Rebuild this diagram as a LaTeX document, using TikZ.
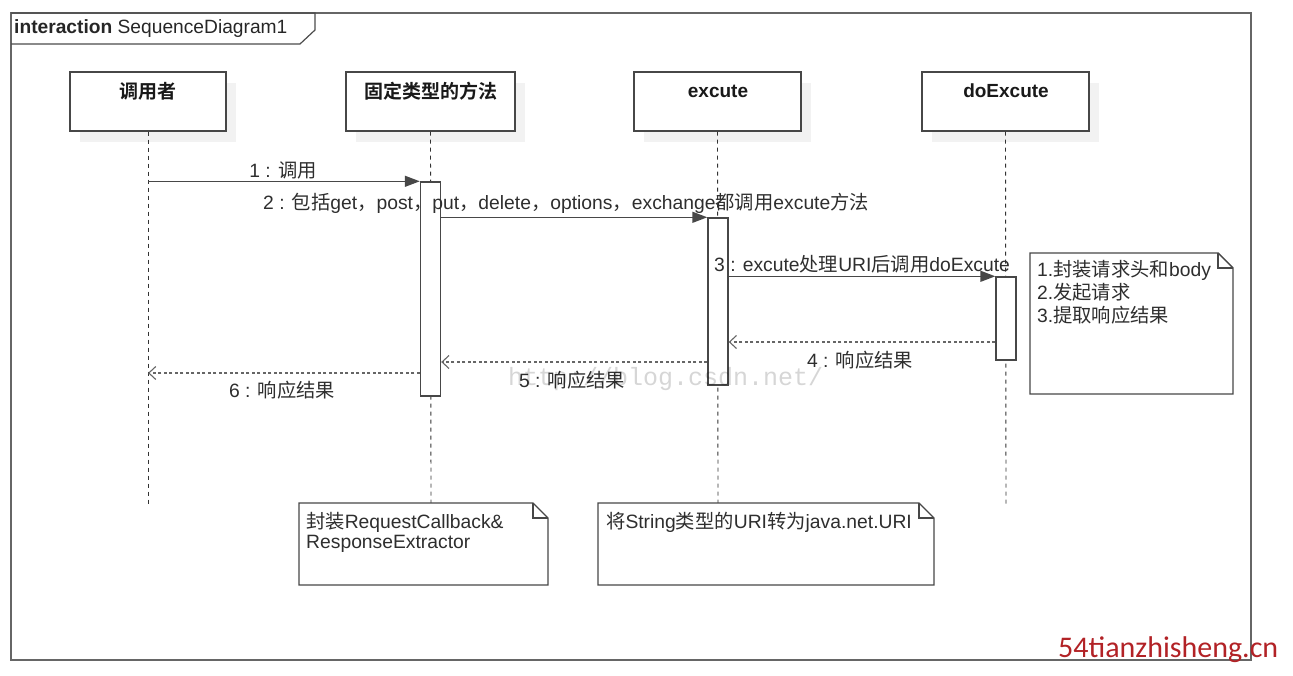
\documentclass[tikz,border=0pt]{standalone}
\usepackage{fontspec}
\setmainfont{Liberation Sans}
\newfontfamily\zhfont{Noto Sans CJK SC}[BoldFont={* Bold}]
\newfontfamily\wmfont{Liberation Mono}
\newfontfamily\redfont{Carlito}
\newcommand\zh[1]{{\zhfont #1}}
\usetikzlibrary{arrows.meta,shadows}
\tikzset{
  ln/.style={draw=black!72, line width=1.4pt},
  lifebox/.style={ln, fill=white, minimum width=156pt, minimum height=59pt, inner sep=0pt,
    drop shadow={shadow xshift=10pt, shadow yshift=-11pt, fill=black!5, opacity=1}},
  head/.style={font=\fontsize{19}{22}\selectfont\bfseries, text=black!90, inner sep=0pt},
  life/.style={draw=black!80, line width=0.9pt, dash pattern=on 4pt off 4pt},
  act/.style={ln, fill=white, minimum width=20pt, inner sep=0pt},
  msg/.style={draw=black!72, line width=1.4pt, -{Triangle[length=15pt,width=11pt]}},
  ret/.style={draw=black!60, line width=1.3pt, dash pattern=on 3pt off 2.5pt,
    -{Straight Barb[length=7pt,width=13pt,line width=1.1pt]}},
  lbl/.style={font=\fontsize{19.3}{22}\selectfont, text=black!82, inner sep=0pt},
  notetxt/.style={font=\fontsize{19.3}{23}\selectfont, text=black!82, inner sep=0pt, align=left, anchor=north west},
  notebox/.style={draw=black!72, line width=1.4pt, fill=white},
}
\begin{document}
\begin{tikzpicture}[x=1pt,y=-1pt]
\useasboundingbox (0,0) rectangle (1293,676);
% frame
\draw[draw=black!60, line width=2pt] (11,13) rectangle (1251,660);
\draw[draw=black!70, line width=1.2pt] (11,13) -- (315,13) -- (315,30) -- (300,44) -- (11,44);
\node[font=\fontsize{19.2}{22}\selectfont, text=black!85, anchor=west, inner sep=0pt] (title) at (14,29)
  {\textbf{interaction} SequenceDiagram1};

% lifeline heads
\node[lifebox] (b1) at (148,101.5) {};
\node[lifebox, minimum width=169pt] (b2) at (430.5,101.5) {};
\node[lifebox, minimum width=167pt] (b3) at (717.5,101.5) {};
\node[lifebox, minimum width=167pt] (b4) at (1005.5,101.5) {};
\node[head] (t1) at (148,91) {\zh{\bfseries 调用者}};
\node[head] (t2) at (431,91) {\zh{\bfseries 固定类型的方法}};
\node[head] (t3) at (718,91) {excute};
\node[head] (t4) at (1006,91) {doExcute};

% lifeline end points
\coordinate (e1) at (148,505);
\coordinate (e2) at (431,503);
\coordinate (e3) at (718,503);
\coordinate (e4) at (1006,505);
\draw[life] (b1.south) -- (e1);
\draw[life] (b2.south) -- (e2);
\draw[life] (b3.south) -- (e3);
\draw[life] (b4.south) -- (e4);

% activations
\node[act, minimum height=214pt] (a1) at (430.5,289) {};
\node[act, minimum height=167pt] (a2) at (718,301.5) {};
\node[act, minimum height=83pt] (a3) at (1006,318.5) {};

% messages
\draw[msg] (b1.south |- a1.north west) -- (a1.north west);
\node[lbl] (l1) at (283,170) {1 : \zh{调用}};
\draw[msg] (a1.east |- a2.north west) -- (a2.north west);
\node[lbl, anchor=west] (l2) at (263,203) {2 : \zh{包括}get\zh{，}post\zh{，}put\zh{，}delete\zh{，}options\zh{，}exchange\zh{都调用}excute\zh{方法}};
\draw[msg] (a2.east |- a3.north west) -- (a3.north west);
\node[lbl, anchor=west] (l3) at (714,264) {3 : excute\zh{处理}URI\zh{后调用}doExcute};

\coordinate (m4) at (996,342);
\coordinate (m5) at (708,362);
\coordinate (m6) at (420,373);
\draw[ret] (a3.west |- m4) -- (a2.east |- m4);
\node[lbl] (l4) at (860,360) {4 : \zh{响应结果}};
\draw[ret] (a2.west |- m5) -- (a1.east |- m5);
\node[lbl] (l5) at (572,380) {5 : \zh{响应结果}};
\draw[ret] (a1.west |- m6) -- (b1.south |- m6);
\node[lbl] (l6) at (282,390) {6 : \zh{响应结果}};

% notes
\draw[notebox] (1030,253) -- (1218,253) -- (1233,268) -- (1233,394) -- (1030,394) -- cycle;
\draw[draw=black!72, line width=1.4pt] (1218,253) -- (1218,268) -- (1233,268);
\node[notetxt] (n3) at (1037,260) {1.\zh{封装请求头和}body\\2.\zh{发起请求}\\3.\zh{提取响应结果}};

\draw[notebox] (299,503) -- (533,503) -- (548,518) -- (548,585) -- (299,585) -- cycle;
\draw[draw=black!72, line width=1.4pt] (533,503) -- (533,518) -- (548,518);
\node[notetxt, font=\fontsize{19.3}{20}\selectfont] (n1) at (306,512) {\zh{封装}RequestCallback\&\\ResponseExtractor};

\draw[notebox] (598,503) -- (919,503) -- (934,518) -- (934,585) -- (598,585) -- cycle;
\draw[draw=black!72, line width=1.4pt] (919,503) -- (919,518) -- (934,518);
\node[notetxt] (n2) at (606,512) {\zh{将}String\zh{类型的}URI\zh{转为}java.net.URI};

% watermarks
\node[font=\wmfont\fontsize{25}{28}\selectfont, text=black, opacity=0.16, anchor=west, inner sep=0pt] (wm) at (508,379) {http://blog.csdn.net/};
\node[font=\redfont\fontsize{30}{34}\selectfont, text={rgb,255:red,178;green,34;blue,38}, anchor=west, inner sep=0pt] (wm2) at (1058,650) {54tianzhisheng.cn};
\end{tikzpicture}
\end{document}
